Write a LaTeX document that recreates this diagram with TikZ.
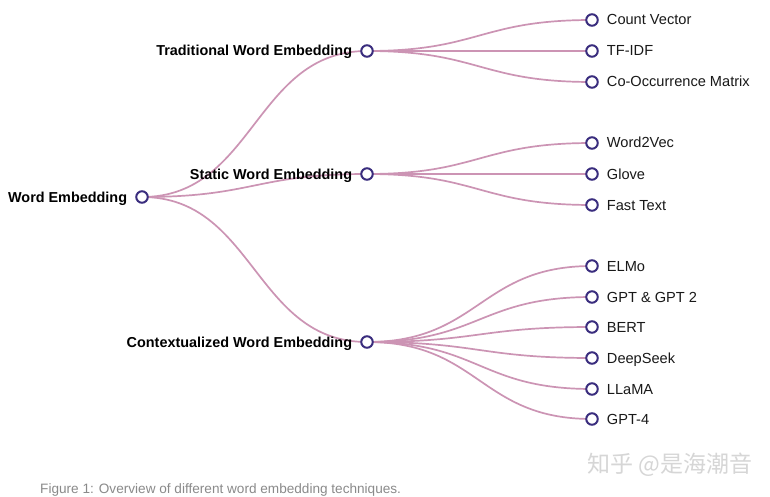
\documentclass[tikz,border=0pt]{standalone}
\usepackage{fontspec}
\usetikzlibrary{calc}
\setmainfont{Liberation Sans}
\newfontfamily\cjkfont{Noto Sans CJK SC}
\definecolor{linkc}{HTML}{CC94B4}
\definecolor{nodec}{HTML}{3A2D7E}
\definecolor{capc}{HTML}{8A8A8A}
\definecolor{wmc}{HTML}{D6D6D6}
\begin{document}
\begin{tikzpicture}[x=1pt,y=-1pt,
  dot/.style={circle,draw=nodec,fill=white,line width=2pt,minimum size=11.5pt,inner sep=0pt},
  link/.style={draw=linkc,line width=1.7pt},
  boldlab/.style={font=\fontsize{14.4}{16}\selectfont\bfseries,inner sep=0pt,anchor=base east,text=black},
  leaflab/.style={font=\fontsize{14.6}{16}\selectfont,inner sep=0pt,anchor=base west,text=black!90},
  ]
\fill[white] (0,0) rectangle (770,497);
\useasboundingbox (0,0) rectangle (770,497);
% coordinates
\coordinate (r) at (142,197);
\coordinate (a) at (367,51);
\coordinate (b) at (367,174);
\coordinate (c) at (367,342);
\foreach \n/\y in {a1/20,a2/51,a3/82,b1/143,b2/174,b3/205,c1/266,c2/297,c3/327,c4/358,c5/389,c6/419}{
  \coordinate (\n) at (592,\y);
}
% links
\foreach \p in {a,b,c}{
  \draw[link] (r) .. controls ($(r)+(112.5,0)$) and ($(\p)+(-112.5,0)$) .. (\p);
}
\foreach \p/\k in {a/a1,a/a2,a/a3,b/b1,b/b2,b/b3,c/c1,c/c2,c/c3,c/c4,c/c5,c/c6}{
  \draw[link] (\p) .. controls ($(\p)+(112.5,0)$) and ($(\k)+(-112.5,0)$) .. (\k);
}
% circles
\node[dot] (nr) at (r) {};
\node[dot] (na) at (a) {};
\node[dot] (nb) at (b) {};
\node[dot] (nc) at (c) {};
\foreach \n in {a1,a2,a3,b1,b2,b3,c1,c2,c3,c4,c5,c6}{
  \node[dot] (n\n) at (\n) {};
}
% labels
\node[boldlab] (tr) at ([xshift=-8pt,yshift=-5pt]nr.west) {Word Embedding};
\node[boldlab] (ta) at ([xshift=-8pt,yshift=-5pt]na.west) {Traditional Word Embedding};
\node[boldlab] (tb) at ([xshift=-8pt,yshift=-5pt]nb.west) {Static Word Embedding};
\node[boldlab] (tc) at ([xshift=-8pt,yshift=-5pt]nc.west) {Contextualized Word Embedding};
\node[leaflab] (ta1) at ([xshift=8pt,yshift=-5pt]na1.east) {Count Vector};
\node[leaflab] (ta2) at ([xshift=8pt,yshift=-5pt]na2.east) {TF-IDF};
\node[leaflab] (ta3) at ([xshift=8pt,yshift=-5pt]na3.east) {Co-Occurrence Matrix};
\node[leaflab] (tb1) at ([xshift=8pt,yshift=-5pt]nb1.east) {Word2Vec};
\node[leaflab] (tb2) at ([xshift=8pt,yshift=-5pt]nb2.east) {Glove};
\node[leaflab] (tb3) at ([xshift=8pt,yshift=-5pt]nb3.east) {Fast Text};
\node[leaflab] (tc1) at ([xshift=8pt,yshift=-5pt]nc1.east) {ELMo};
\node[leaflab] (tc2) at ([xshift=8pt,yshift=-5pt]nc2.east) {GPT \& GPT 2};
\node[leaflab] (tc3) at ([xshift=8pt,yshift=-5pt]nc3.east) {BERT};
\node[leaflab] (tc4) at ([xshift=8pt,yshift=-5pt]nc4.east) {DeepSeek};
\node[leaflab] (tc5) at ([xshift=8pt,yshift=-5pt]nc5.east) {LLaMA};
\node[leaflab] (tc6) at ([xshift=8pt,yshift=-5pt]nc6.east) {GPT-4};
% caption and watermark
\node[font=\fontsize{13.6}{15}\selectfont,text=capc,inner sep=0pt,anchor=base west] (cap) at (40,493) {Figure 1: Overview of different word embedding techniques.};
\node[font=\fontsize{23}{25}\selectfont\cjkfont,text=wmc,inner sep=0pt] (wm) at (670,465) {知乎 @是海潮音};
\end{tikzpicture}
\end{document}
